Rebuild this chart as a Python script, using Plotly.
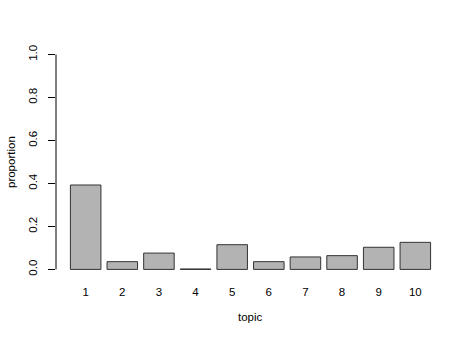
import plotly.graph_objects as go

topics = ["1", "2", "3", "4", "5", "6", "7", "8", "9", "10"]
proportion = [0.393, 0.036, 0.076, 0.002, 0.115, 0.036, 0.058, 0.064, 0.103, 0.126]
y_ticks = [0.0, 0.2, 0.4, 0.6, 0.8, 1.0]
y_tick_labels = ["0.0", "0.2", "0.4", "0.6", "0.8", "1.0"]

centers = [0.7 + 1.2 * i for i in range(len(topics))]

font = dict(family="Liberation Sans, Arial, sans-serif", size=11.5, color="black")

fig = go.Figure()
fig.add_trace(go.Bar(
    x=centers, y=proportion, width=1.0,
    marker=dict(color="#b3b3b3", line=dict(color="#333333", width=1)),
    showlegend=False, hoverinfo="skip",
))

fig.update_layout(
    width=474, height=338,
    margin=dict(l=56, r=29, t=46, b=60),
    plot_bgcolor="white", paper_bgcolor="white",
    font=font,
    xaxis=dict(
        range=[-0.272, 12.472], automargin=False,
        tickmode="array", tickvals=centers, ticktext=topics,
        showline=False, showgrid=False, zeroline=False, ticks="",
        ticklabelstandoff=5,
    ),
    yaxis=dict(
        range=[-0.04, 1.04], automargin=False,
        tickmode="array", tickvals=y_ticks, ticktext=y_tick_labels,
        tickangle=-90,
        showline=False, showgrid=False, zeroline=False,
        ticks="outside", ticklen=7, tickcolor="black", tickwidth=1,
        ticklabelstandoff=6,
    ),
    annotations=[
        dict(text="topic", xref="paper", yref="paper", x=0.5, y=0,
             yshift=-39, showarrow=False, xanchor="center", yanchor="middle"),
        dict(text="proportion", xref="paper", yref="paper", x=0, y=0.5,
             xshift=-45, showarrow=False, textangle=-90,
             xanchor="center", yanchor="middle"),
    ],
)

fig.add_shape(type="line", xref="paper", yref="y", x0=0, x1=0,
              y0=y_ticks[0], y1=y_ticks[-1], line=dict(color="black", width=1))

fig.write_html("out.html")
